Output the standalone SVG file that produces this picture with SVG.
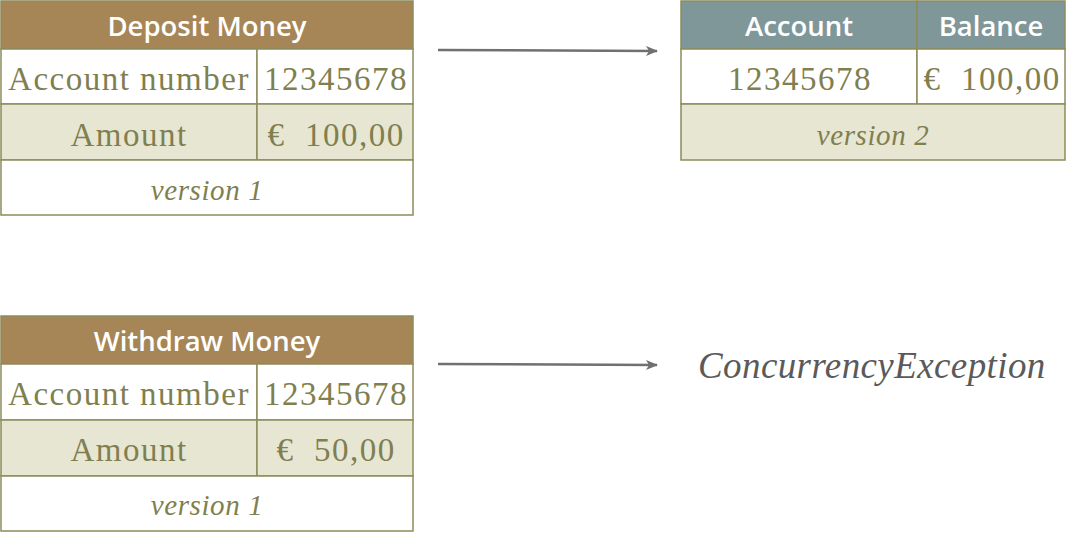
<svg xmlns="http://www.w3.org/2000/svg" width="1067" height="533" viewBox="0 0 1067 533">
<defs>
<marker id="arr" markerWidth="12" markerHeight="10" refX="11" refY="5" orient="auto" markerUnits="userSpaceOnUse">
<path d="M0,0 L12,5 L0,10 L3,5 Z" fill="#707070"/>
</marker>
<style>
.cell{stroke:#8c8c5c;stroke-width:1.5}
.w{fill:#ffffff}
.l{fill:#e7e6d3}
.hb{fill:#a68656}
.hg{fill:#7f9799}
.ht{font-family:"Open Sans","Liberation Sans",sans-serif;font-weight:600;font-size:27.5px;fill:#ffffff;text-anchor:middle}
.t{font-family:"Liberation Serif","DejaVu Serif",serif;font-size:33px;letter-spacing:1.5px;fill:#7f7f4f;text-anchor:middle}
.v{font-family:"Liberation Serif","DejaVu Serif",serif;font-style:italic;font-size:29px;letter-spacing:0.6px;fill:#7f7f4f;text-anchor:middle}
.ex{font-family:"Liberation Serif","DejaVu Serif",serif;font-style:italic;font-size:37px;letter-spacing:0.4px;fill:#5a5a5a}
.c{stroke:#707070;stroke-width:2.5;fill:none}
</style>
</defs>
<g id="deposit">
<rect class="cell hb" x="1" y="1" width="412" height="48"/>
<rect class="cell w" x="1" y="49" width="256" height="55"/>
<rect class="cell w" x="257" y="49" width="156" height="55"/>
<rect class="cell l" x="1" y="104" width="256" height="56"/>
<rect class="cell l" x="257" y="104" width="156" height="56"/>
<rect class="cell w" x="1" y="160" width="412" height="55"/>
<text class="ht" x="207" y="36">Deposit Money</text>
<text class="t" x="129" y="90">Account number</text>
<text class="t" x="336" y="90">12345678</text>
<text class="t" x="129" y="146">Amount</text>
<text class="t" x="336" y="146">€&#160;&#160;100,00</text>
<text class="v" x="207" y="200">version 1</text>
</g>
<g id="account">
<rect class="cell hg" x="681" y="1" width="236" height="48"/>
<rect class="cell hg" x="917" y="1" width="148" height="48"/>
<rect class="cell w" x="681" y="49" width="236" height="55"/>
<rect class="cell w" x="917" y="49" width="148" height="55"/>
<rect class="cell l" x="681" y="104" width="384" height="56"/>
<text class="ht" x="799" y="36">Account</text>
<text class="ht" x="991" y="36">Balance</text>
<text class="t" x="800" y="90">12345678</text>
<text class="t" x="992" y="90">€&#160;&#160;100,00</text>
<text class="v" x="873" y="145">version 2</text>
</g>
<g id="withdraw">
<rect class="cell hb" x="1" y="316" width="412" height="48"/>
<rect class="cell w" x="1" y="364" width="256" height="56"/>
<rect class="cell w" x="257" y="364" width="156" height="56"/>
<rect class="cell l" x="1" y="420" width="256" height="56"/>
<rect class="cell l" x="257" y="420" width="156" height="56"/>
<rect class="cell w" x="1" y="476" width="412" height="55"/>
<text class="ht" x="207" y="351">Withdraw Money</text>
<text class="t" x="129" y="405">Account number</text>
<text class="t" x="336" y="405">12345678</text>
<text class="t" x="129" y="461">Amount</text>
<text class="t" x="336" y="461">€&#160;&#160;50,00</text>
<text class="v" x="207" y="515">version 1</text>
</g>
<g id="exception">
<text class="ex" x="698" y="378">ConcurrencyException</text>
</g>
<g id="connectors">
<line class="c" x1="438" y1="50" x2="657" y2="51" marker-end="url(#arr)"/>
<line class="c" x1="438" y1="364" x2="657" y2="365" marker-end="url(#arr)"/>
</g>
</svg>
